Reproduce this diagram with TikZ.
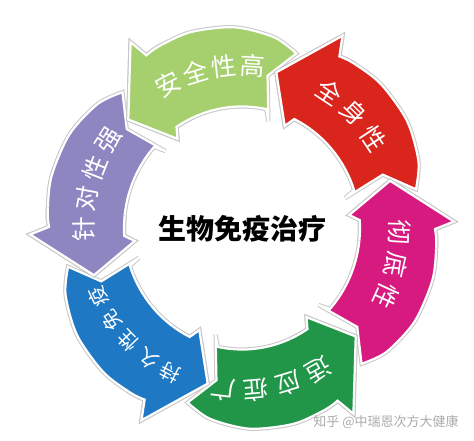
\documentclass[tikz,border=0pt]{standalone}
\usepackage{fontspec}
\newfontfamily\cjk{Noto Sans CJK SC}
\definecolor{cgreenl}{RGB}{166,207,110}
\definecolor{cred}{RGB}{218,37,29}
\definecolor{cmag}{RGB}{214,26,128}
\definecolor{cgreen}{RGB}{34,150,72}
\definecolor{cblue}{RGB}{30,120,196}
\definecolor{cpurp}{RGB}{142,134,192}
% one curved arrow, #1 = polar angle of its tip
\newcommand\myarrowpath[1]{(#1:155) -- ({#1-10.5}:108) -- ({#1-13.5}:118)
  arc[start angle={#1-13.5}, end angle={#1-59}, radius=118]
  -- ({#1-61.5}:107) -- ({#1-57}:150)
  -- plot[smooth] coordinates {({#1-65}:178) ({#1-57}:188) ({#1-45}:195) ({#1-32}:197) ({#1-22}:195) ({#1-17.5}:193)}
  -- ({#1-15.5}:212) -- cycle}
% labels along an arc: #1 name, #2 centre angle, #3 spacing, #4 count, #5 chars, #6 size
\newcommand\myarclabel[6]{%
  \foreach \ch [count=\i] in {#5} {%
    \pgfmathsetmacro\ang{#2+((#4+1)/2-\i)*#3}%
    \node[lbl=#6, rotate=\ang-90] (#1\i) at (\ang:158) {\ch};
  }}
\begin{document}
\begin{tikzpicture}[x=1pt,y=1pt,
  arr/.style={fill=#1, draw=white, line width=2.2pt, line join=miter,
    preaction={draw=black!22, line width=4.2pt}},
  lbl/.style={text=white, inner sep=0pt, font=\cjk\fontsize{#1}{#1}\selectfont}]
\useasboundingbox[fill=white] (0,0) rectangle (474,441);
\begin{scope}[shift={(242,213)}, yscale=1.03]
  \draw[arr=cmag]    \myarrowpath{17.2};
  \draw[arr=cred]    \myarrowpath{77.2};
  \draw[arr=cgreenl] \myarrowpath{137.2};
  \draw[arr=cpurp]   \myarrowpath{197.2};
  \draw[arr=cblue]   \myarrowpath{257.2};
  \draw[arr=cgreen]  \myarrowpath{317.2};
  % heads on top of the following tails
  \foreach \T/\c in {17.2/cmag, 77.2/cred, 137.2/cgreenl, 197.2/cpurp, 257.2/cblue, 317.2/cgreen} {
    \begin{scope}
      \clip (0,0) -- ({\T+10}:270) arc[start angle={\T+10}, end angle={\T-23}, radius=270] -- cycle;
      \draw[arr=\c] \myarrowpath{\T};
    \end{scope}
  }
  \myarclabel{ta}{102}{10.5}{4}{安,全,性,高}{25}
  \myarclabel{tb}{45}{11.5}{3}{全,身,性}{25}
  \myarclabel{tc}{-13}{11.5}{3}{彻,底,性}{25}
  \myarclabel{td}{281}{12}{4}{适,应,症,广}{25}
  \myarclabel{te}{224}{9.5}{5}{持,久,性,免,疫}{20}
  \myarclabel{tf}{164}{11}{4}{针,对,性,强}{25}
\end{scope}
\node[font=\cjk\bfseries\fontsize{28}{28}\selectfont, text=black] (ct) at (242,212) {生物免疫治疗};
\node[font=\cjk\fontsize{13}{13}\selectfont, text=black!33, inner sep=0pt] (wm) at (386,19) {知乎 @中瑞恩次方大健康};
\end{tikzpicture}
\end{document}
